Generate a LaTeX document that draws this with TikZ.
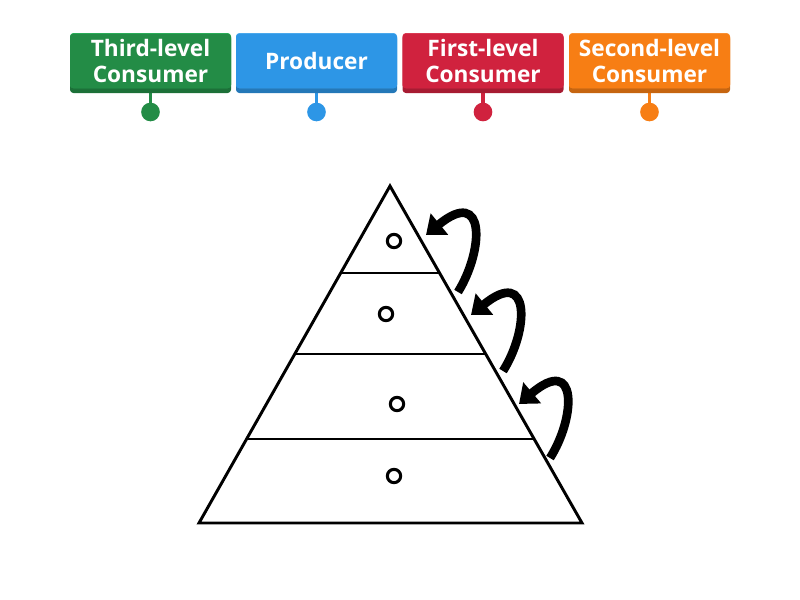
\documentclass[tikz,border=0pt]{standalone}
\usepackage{fontspec}
\setmainfont{Open Sans}
\usetikzlibrary{arrows.meta}
\definecolor{cgreen}{HTML}{238C46}
\definecolor{cgreenL}{HTML}{2DBE62}
\definecolor{cblue}{HTML}{2D96E6}
\definecolor{cblueL}{HTML}{5AB2F0}
\definecolor{cred}{HTML}{D0223E}
\definecolor{credL}{HTML}{E0485E}
\definecolor{corange}{HTML}{F77E14}
\definecolor{corangeL}{HTML}{FB9B45}
\tikzset{
  tag/.style={rounded corners=2.5pt, minimum width=120.75pt, minimum height=41pt,
    text=white, font=\fontsize{17}{19}\selectfont\bfseries, align=center, inner sep=0pt},
  dot/.style={circle, minimum size=14pt, inner sep=0pt},
  stem/.style={line width=2.6pt},
  pyr/.style={line width=2.2pt, line join=miter},
  ring/.style={circle, draw=black, line width=2.3pt, minimum size=10pt, inner sep=0pt},
  flow/.style={line width=6.5pt, -{Triangle[width=20pt,length=13pt]}},
}
\begin{document}
\begin{tikzpicture}[x=0.75pt,y=-0.75pt]
\useasboundingbox (0,0) rectangle (800,600);
% label tags
\foreach \n/\cx/\c/\t in {t1/150.5/cgreen/{Third-level\\Consumer},
                          t2/316.5/cblue/{Producer},
                          t3/483/cred/{First-level\\Consumer},
                          t4/649.5/corange/{Second-level\\Consumer}}{
  \node[dot, fill=\c] (\n d) at (\cx,112) {};
  \draw[stem, draw=\c] (\cx,90) -- (\n d.center);
  \fill[\c!80!black, rounded corners=2.5pt] (\cx-80.5,35) rectangle (\cx+80.5,93);
  \fill[\c L, rounded corners=2.5pt] (\cx-80.5,33) rectangle (\cx+80.5,88);
  \node[tag, fill=\c] (\n) at (\cx,61) {\t};
}
% pyramid
\coordinate (apex) at (390,186);
\coordinate (bl) at (199,523);
\coordinate (br) at (582,523);
\draw[pyr] (apex) -- (bl) -- (br) -- cycle;
\begin{scope}
  \clip (apex) -- (bl) -- (br) -- cycle;
  \draw[pyr] (150,273) -- (650,273);
  \draw[pyr] (150,354) -- (650,354);
  \draw[pyr] (150,439) -- (650,439);
\end{scope}
\node[ring] (r1) at (394,241) {};
\node[ring] (r2) at (386,314) {};
\node[ring] (r3) at (397,404) {};
\node[ring] (r4) at (394,476) {};
% curved arrows
\coordinate (a1s) at (458,292);
\coordinate (a1e) at (426,235);
\coordinate (a2s) at (503,371);
\coordinate (a2e) at (471,315);
\coordinate (a3s) at (550,458);
\coordinate (a3e) at (519,404);
\draw[flow] (a1s) .. controls (484,250) and (486,186) .. (a1e);
\draw[flow] (a2s) .. controls (529,330) and (531,266) .. (a2e);
\draw[flow] (a3s) .. controls (576,417) and (578,354) .. (a3e);
\end{tikzpicture}
\end{document}
